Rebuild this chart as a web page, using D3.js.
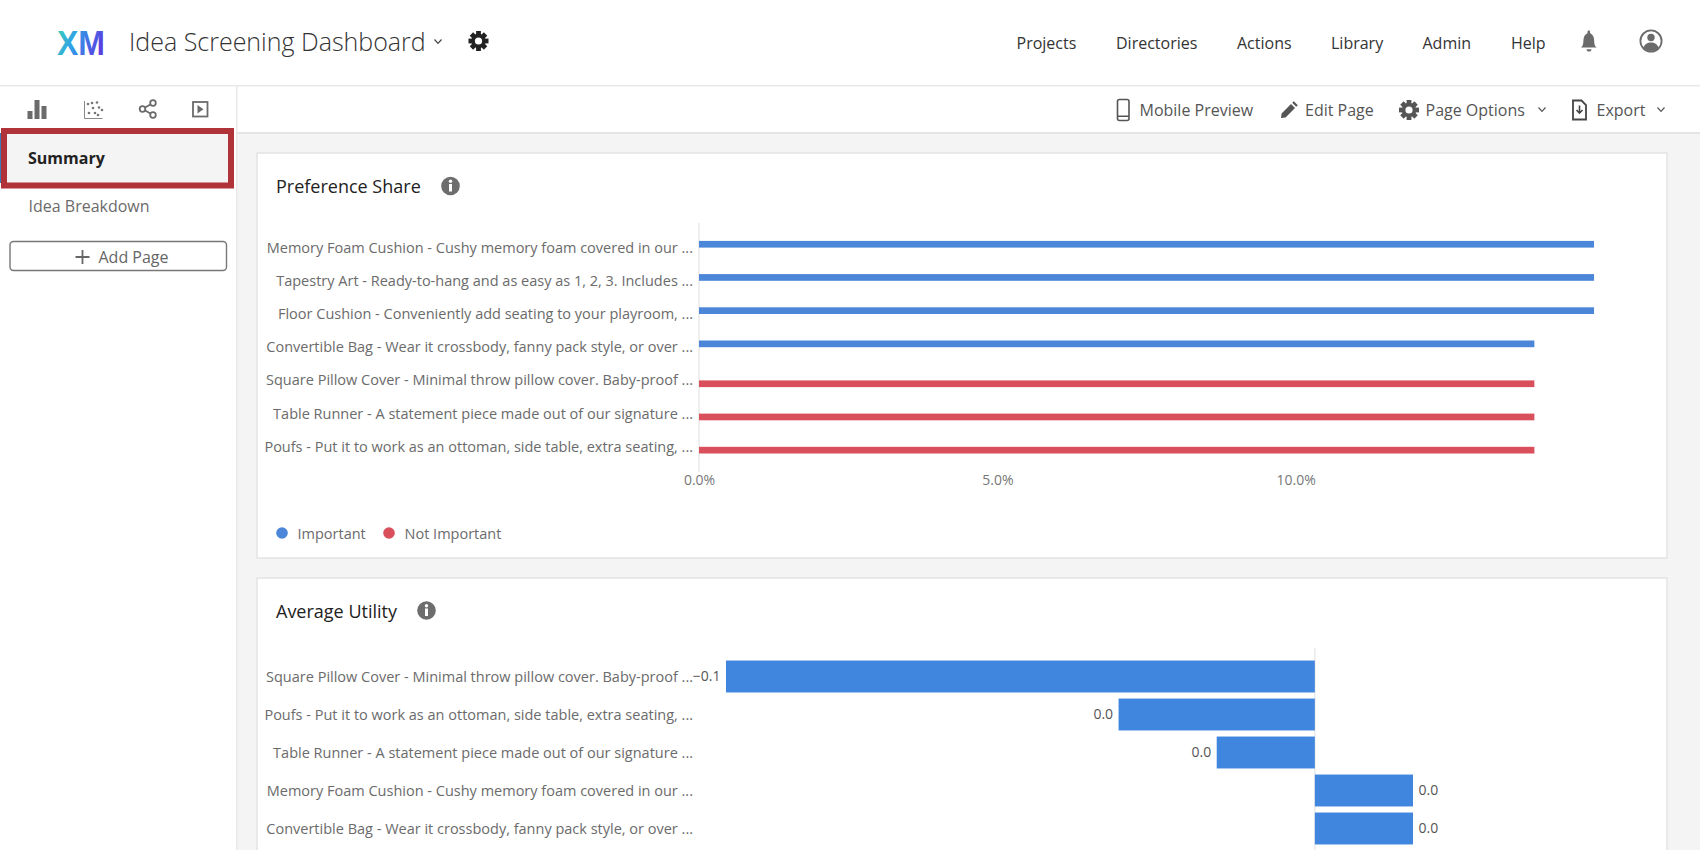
<!DOCTYPE html>
<html>
<head>
<meta charset="utf-8">
<title>Idea Screening Dashboard</title>
<script src="https://cdn.jsdelivr.net/npm/d3@7"></script>
<style>
  html, body { margin: 0; padding: 0; background: #f4f4f4; overflow: hidden; }
  svg { display: block; }
  text { font-family: "Open Sans", sans-serif; }
</style>
</head>
<body>
<svg id="page" width="1700" height="850"></svg>
<script>
// chart data
const shareLabels = [
  "Memory Foam Cushion - Cushy memory foam covered in our ...",
  "Tapestry Art - Ready-to-hang and as easy as 1, 2, 3. Includes ...",
  "Floor Cushion - Conveniently add seating to your playroom, ...",
  "Convertible Bag - Wear it crossbody, fanny pack style, or over ...",
  "Square Pillow Cover - Minimal throw pillow cover. Baby-proof ...",
  "Table Runner - A statement piece made out of our signature ...",
  "Poufs - Put it to work as an ottoman, side table, extra seating, ..."
];
const shareValues = [15, 15, 15, 14, 14, 14, 14];
const shareGroups = ["Important", "Important", "Important", "Important", "Not Important", "Not Important", "Not Important"];
const shareTicks = [0, 5, 10];
const legendItems = ["Important", "Not Important"];

const utilityLabels = [
  "Square Pillow Cover - Minimal throw pillow cover. Baby-proof ...",
  "Poufs - Put it to work as an ottoman, side table, extra seating, ...",
  "Table Runner - A statement piece made out of our signature ...",
  "Memory Foam Cushion - Cushy memory foam covered in our ...",
  "Convertible Bag - Wear it crossbody, fanny pack style, or over ..."
];
const utilityValues = [-0.06, -0.02, -0.01, 0.01, 0.01];

const navItems = [["Projects", 1016.5], ["Directories", 1116], ["Actions", 1237], ["Library", 1331], ["Admin", 1422.5], ["Help", 1511]];
const toolItems = [["Mobile Preview", 1139.5], ["Edit Page", 1305], ["Page Options", 1425.5], ["Export", 1596.5]];

const groupColor = d3.scaleOrdinal().domain(legendItems).range(["#4c86d9", "#d9505c"]);
const svg = d3.select("#page");

function label(g, x, y, str, size, fill, anchor = "start", weight = 400) {
  return g.append("text").attr("x", x).attr("y", y).attr("dy", "0.35em")
    .attr("font-size", size).attr("fill", fill).attr("text-anchor", anchor)
    .attr("font-weight", weight).text(str);
}

function gear(g, x, y, r, fill, hole) {
  const n = g.append("g").attr("transform", `translate(${x},${y})`);
  d3.range(8).forEach(i => {
    n.append("rect").attr("x", -r * 0.24).attr("y", -r).attr("width", r * 0.48).attr("height", r * 0.5)
      .attr("fill", fill).attr("transform", `rotate(${i * 45})`);
  });
  n.append("circle").attr("r", r * 0.72).attr("fill", fill);
  n.append("circle").attr("r", r * 0.36).attr("fill", hole);
}

function chevron(g, x, y, stroke) {
  g.append("path").attr("d", `M${x - 3.5},${y - 2}L${x},${y + 1.8}L${x + 3.5},${y - 2}`)
    .attr("fill", "none").attr("stroke", stroke).attr("stroke-width", 1.2);
}

function infoIcon(g, x, y) {
  g.append("circle").attr("cx", x).attr("cy", y).attr("r", 9.3).attr("fill", "#6d6d6d");
  g.append("rect").attr("x", x - 1.5).attr("y", y - 2).attr("width", 3).attr("height", 7.5).attr("fill", "#fff");
  g.append("circle").attr("cx", x).attr("cy", y - 4.8).attr("r", 1.7).attr("fill", "#fff");
}

// page frame
const frame = svg.append("g");
frame.append("rect").attr("width", 1700).attr("height", 850).attr("fill", "#f4f4f4");
frame.append("rect").attr("width", 1700).attr("height", 85).attr("fill", "#fff");
frame.append("rect").attr("y", 85).attr("width", 236).attr("height", 765).attr("fill", "#fff");
frame.append("rect").attr("x", 237).attr("y", 86).attr("width", 1463).attr("height", 46).attr("fill", "#fff");
frame.append("rect").attr("y", 85).attr("width", 1700).attr("height", 1.5).attr("fill", "#e9e9e9");
frame.append("rect").attr("x", 236).attr("y", 85).attr("width", 1.5).attr("height", 765).attr("fill", "#e9e9e9");
frame.append("rect").attr("x", 237).attr("y", 132).attr("width", 1463).attr("height", 2).attr("fill", "#e4e4e4");

// header
const header = svg.append("g");
const logoFill = svg.append("defs").append("linearGradient").attr("id", "logoFill")
  .attr("x1", "0%").attr("y1", "0%").attr("x2", "100%").attr("y2", "30%");
[["0%", "#3fd6b4"], ["45%", "#2f9fe8"], ["100%", "#5a3fe0"]].forEach(([o, c]) =>
  logoFill.append("stop").attr("offset", o).attr("stop-color", c));
header.append("text").attr("x", 57).attr("y", 55).attr("font-size", 35).attr("font-weight", 700)
  .attr("textLength", 48).attr("lengthAdjust", "spacingAndGlyphs")
  .attr("fill", "url(#logoFill)").style("font-family", "Liberation Sans").text("XM");
label(header, 129, 42, "Idea Screening Dashboard", 25, "#333", "start", 300);
chevron(header, 438, 41.5, "#444");
gear(header, 478.5, 41, 10, "#222", "#fff");
navItems.forEach(([name, x]) => label(header, x, 43, name, 16, "#333"));

// bell
header.append("path").attr("d", "M1581,47.5c2.5,-2 2.2,-4.5 2.5,-8c0.3,-3.6 2.3,-5.6 4,-6.2v-1.4c0,-1.8 2.6,-1.8 2.6,0v1.4c1.7,0.6 3.7,2.6 4,6.2c0.3,3.5 0,6 2.5,8z").attr("fill", "#6b6b6b");
header.append("path").attr("d", "M1586.5,49.2h5c0,3.2 -5,3.2 -5,0z").attr("fill", "#6b6b6b");
// account
header.append("circle").attr("cx", 1651).attr("cy", 41).attr("r", 10.6).attr("fill", "#fff").attr("stroke", "#6b6b6b").attr("stroke-width", 1.8);
header.append("circle").attr("cx", 1651).attr("cy", 37.5).attr("r", 3.7).attr("fill", "#6b6b6b");
header.append("path").attr("d", "M1643.5,48c1,-4 4,-5.5 7.5,-5.5s6.5,1.5 7.5,5.5c-4,4 -11,4 -15,0z").attr("fill", "#6b6b6b");

// toolbar above the cards
const toolbar = svg.append("g");
toolItems.forEach(([name, x]) => label(toolbar, x, 110, name, 16, "#555"));
toolbar.append("rect").attr("x", 1117.5).attr("y", 99.5).attr("width", 11.5).attr("height", 21).attr("rx", 2)
  .attr("fill", "none").attr("stroke", "#555").attr("stroke-width", 1.6);
toolbar.append("rect").attr("x", 1117.5).attr("y", 115.5).attr("width", 11.5).attr("height", 1.5).attr("fill", "#555");
toolbar.append("path").attr("d", "M1281,118l0.6,-4.6l9.4,-9.4l4,4l-9.4,9.4zM1292.2,102.8l1.6,-1.6l4,4l-1.6,1.6z").attr("fill", "#555");
gear(toolbar, 1409, 110, 10, "#555", "#fff");
chevron(toolbar, 1542, 109.5, "#555");
toolbar.append("path").attr("d", "M1573,100.5h8.5l4.5,4.5v14.5h-13z").attr("fill", "none").attr("stroke", "#444").attr("stroke-width", 1.8);
toolbar.append("path").attr("d", "M1579.5,105.5v7M1576.5,110l3,3.2l3,-3.2").attr("fill", "none").attr("stroke", "#444").attr("stroke-width", 1.6);
chevron(toolbar, 1661, 109.5, "#555");

// left tabs
const side = svg.append("g");
side.append("g").attr("fill", "#6b6b6b").selectAll("rect").data([[27.5, 111, 5, 8], [34.5, 100, 5, 19], [41.5, 106, 5, 13]])
  .join("rect").attr("x", d => d[0]).attr("y", d => d[1]).attr("width", d => d[2]).attr("height", d => d[3]);
side.append("path").attr("d", "M84.5,101v17.5h18").attr("fill", "none").attr("stroke", "#888").attr("stroke-width", 1);
side.append("g").attr("fill", "#777").selectAll("circle")
  .data([[88, 104], [92, 103], [97, 102.5], [93, 108], [99, 107.5], [102, 110], [89, 113], [95, 113], [98, 115]])
  .join("circle").attr("cx", d => d[0]).attr("cy", d => d[1]).attr("r", 1.3);
side.append("path").attr("d", "M153,103L142.5,109L153,115").attr("fill", "none").attr("stroke", "#6b6b6b").attr("stroke-width", 1.8);
side.append("g").attr("fill", "#fff").attr("stroke", "#6b6b6b").attr("stroke-width", 1.8).selectAll("circle")
  .data([[153, 103], [142.5, 109], [153, 115]]).join("circle").attr("cx", d => d[0]).attr("cy", d => d[1]).attr("r", 2.8);
side.append("rect").attr("x", 193).attr("y", 102).attr("width", 14.5).attr("height", 14.5).attr("fill", "none").attr("stroke", "#6b6b6b").attr("stroke-width", 1.8);
side.append("path").attr("d", "M197.5,105l6,4.2l-6,4.2z").attr("fill", "#6b6b6b");

side.append("rect").attr("x", 0).attr("y", 133).attr("width", 2).attr("height", 50).attr("fill", "#3f78b8");
side.append("rect").attr("x", 4).attr("y", 131).attr("width", 227).attr("height", 54.5)
  .attr("fill", "#f4f4f4").attr("stroke", "#b0333a").attr("stroke-width", 6);
label(side, 28, 158, "Summary", 16, "#222", "start", 700);
label(side, 28.5, 206.5, "Idea Breakdown", 16, "#6b6b6b");
side.append("rect").attr("x", 10).attr("y", 241.5).attr("width", 216.5).attr("height", 29).attr("rx", 3.5)
  .attr("fill", "#fff").attr("stroke", "#777").attr("stroke-width", 1.4);
side.append("path").attr("d", "M82.5,250v14M75.5,257h14").attr("stroke", "#666").attr("stroke-width", 1.8);
label(side, 98.5, 257.5, "Add Page", 16, "#666");

// cards
const card = svg.append("g");
[[257, 153, 1410, 405], [257, 578, 1410, 280]].forEach(([x, y, w, h]) => {
  card.append("rect").attr("x", x).attr("y", y).attr("width", w).attr("height", h)
    .attr("fill", "#fff").attr("stroke", "#e4e4e4").attr("stroke-width", 1.5);
});
label(card, 276, 186.5, "Preference Share", 18, "#222");
infoIcon(card, 450.5, 186);
label(card, 276, 611.5, "Average Utility", 18, "#222");
infoIcon(card, 426.5, 610.5);

// preference share bars
const shareX = d3.scaleLinear().domain([0, 10]).range([699, 1295.7]);
const shareY = d3.scaleBand().domain(shareLabels).range([231, 463.4]);
const shareInner = d3.scaleBand().domain(legendItems)
  .range([shareY.bandwidth() / 2 - 6.7, shareY.bandwidth() / 2 + 6.7]);

const shareChart = svg.append("g");
shareChart.append("g").attr("transform", "translate(0,472)")
  .call(d3.axisBottom(shareX).tickValues(shareTicks).tickSize(0).tickPadding(3).tickFormat(d => d3.format(".1f")(d) + "%"))
  .call(g => g.select(".domain").remove())
  .call(g => g.selectAll("text").attr("font-size", 14).attr("fill", "#777").style("font-family", "Open Sans"));
shareChart.append("line").attr("x1", shareX(0)).attr("x2", shareX(0)).attr("y1", 223).attr("y2", 472)
  .attr("stroke", "#eaeaea").attr("stroke-width", 1.5);
shareChart.append("g").selectAll("rect").data(shareLabels).join("rect")
  .attr("x", shareX(0))
  .attr("y", (d, i) => shareY(d) + shareInner(shareGroups[i]))
  .attr("width", (d, i) => shareX(shareValues[i]) - shareX(0))
  .attr("height", shareInner.bandwidth())
  .attr("fill", (d, i) => groupColor(shareGroups[i]));
shareChart.append("g").selectAll("text").data(shareLabels).join("text")
  .attr("x", 693).attr("y", d => shareY(d) + shareY.bandwidth() / 2).attr("dy", "0.35em")
  .attr("text-anchor", "end").attr("font-size", 14.5).attr("fill", "#6b6b6b").text(d => d);

// legend
const legend = svg.append("g");
[[282, 297.5], [389, 404.5]].forEach(([cx, tx], i) => {
  legend.append("circle").attr("cx", cx).attr("cy", 533).attr("r", 5.8).attr("fill", groupColor(legendItems[i]));
  label(legend, tx, 533.5, legendItems[i], 14.5, "#6b6b6b");
});

// average utility bars
const utilityX = d3.scaleLinear().domain([-0.06, 0.01]).range([726, 1413]);
const utilityY = d3.scaleBand().domain(utilityLabels).range([657.5, 847.5]).paddingInner(0.16).paddingOuter(0.08);

const utilityChart = svg.append("g");
utilityChart.append("line").attr("x1", utilityX(0)).attr("x2", utilityX(0)).attr("y1", 648).attr("y2", 850)
  .attr("stroke", "#eaeaea").attr("stroke-width", 1.5);
utilityChart.append("g").selectAll("rect").data(utilityLabels).join("rect")
  .attr("x", (d, i) => Math.min(utilityX(utilityValues[i]), utilityX(0)))
  .attr("y", d => utilityY(d))
  .attr("width", (d, i) => Math.abs(utilityX(utilityValues[i]) - utilityX(0)))
  .attr("height", utilityY.bandwidth())
  .attr("fill", "#4086de");
utilityChart.append("g").selectAll("text").data(utilityLabels).join("text")
  .attr("x", (d, i) => utilityX(utilityValues[i]) + (utilityValues[i] < 0 ? -5.5 : 5.5))
  .attr("y", d => utilityY(d) + utilityY.bandwidth() / 2).attr("dy", "0.35em")
  .attr("text-anchor", (d, i) => utilityValues[i] < 0 ? "end" : "start")
  .attr("font-size", 14).attr("fill", "#555")
  .text((d, i) => d3.format(".1f")(utilityValues[i]));
utilityChart.append("g").selectAll("text").data(utilityLabels).join("text")
  .attr("x", 693).attr("y", d => utilityY(d) + utilityY.bandwidth() / 2).attr("dy", "0.35em")
  .attr("text-anchor", "end").attr("font-size", 14.5).attr("fill", "#6b6b6b").text(d => d);
</script>
</body>
</html>
